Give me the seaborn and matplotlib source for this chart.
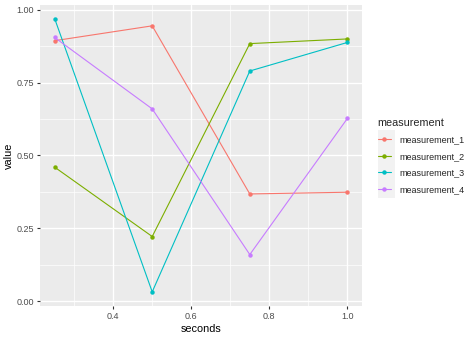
import matplotlib
matplotlib.use("Agg")
import matplotlib.pyplot as plt
import seaborn as sns
import pandas as pd
from matplotlib.ticker import FixedLocator
from matplotlib.patches import Rectangle

seconds = [0.25, 0.5, 0.75, 1.0]
measurement_1 = [0.894, 0.945, 0.368, 0.374]
measurement_2 = [0.460, 0.222, 0.884, 0.900]
measurement_3 = [0.970, 0.032, 0.790, 0.888]
measurement_4 = [0.905, 0.660, 0.160, 0.627]
series_names = ["measurement_1", "measurement_2", "measurement_3", "measurement_4"]
colors = ["#F8766D", "#7CAE00", "#00BFC4", "#C77CFF"]

rows = []
for name, vals in zip(series_names, [measurement_1, measurement_2, measurement_3, measurement_4]):
    for s, v in zip(seconds, vals):
        rows.append({"seconds": s, "value": v, "measurement": name})
df = pd.DataFrame(rows)

sns.set_theme(style="white")
plt.rcParams['font.family'] = ['Liberation Sans', 'DejaVu Sans']

W, H = 474, 338
fig = plt.figure(figsize=(W/100, H/100), dpi=100)
ax = fig.add_axes([40/W, 1 - 306/H, (362-40)/W, (306-5)/H])
ax.set_facecolor("#EBEBEB")
ax.set_zorder(1)

sns.lineplot(data=df, x="seconds", y="value", hue="measurement",
             palette=colors, marker="o", markersize=3.2, markeredgewidth=0,
             linewidth=0.8, ax=ax, legend=True)

ax.set_xlim(0.2125, 1.0375)
ax.set_ylim(-0.0165, 1.0165)
ax.xaxis.set_major_locator(FixedLocator([0.4, 0.6, 0.8, 1.0]))
ax.xaxis.set_minor_locator(FixedLocator([0.3, 0.5, 0.7, 0.9]))
ax.yaxis.set_major_locator(FixedLocator([0.0, 0.25, 0.5, 0.75, 1.0]))
ax.yaxis.set_minor_locator(FixedLocator([0.125, 0.375, 0.625, 0.875]))
ax.set_xticklabels(["0.4", "0.6", "0.8", "1.0"])
ax.set_yticklabels(["0.00", "0.25", "0.50", "0.75", "1.00"])
ax.grid(which="major", color="white", linewidth=1.0)
ax.grid(which="minor", color="white", linewidth=0.5)
ax.set_axisbelow(True)
for sp in ax.spines.values():
    sp.set_visible(False)
ax.tick_params(which="major", length=2.5, width=0.8, color="#333333",
               labelsize=6.5, labelcolor="#4D4D4D", pad=2, bottom=True, left=True)
ax.tick_params(which="minor", length=0)
ax.set_xlabel("seconds", fontsize=7.8, color="black", labelpad=2)
ax.set_ylabel("value", fontsize=7.8, color="black", labelpad=2)

# legend key background (ggplot style)
bg = Rectangle((378/W, 1 - 198/H), 17/W, 68/H,
               transform=fig.transFigure, facecolor="#F2F2F2",
               edgecolor="none", zorder=-1)
fig.patches.append(bg)

leg = ax.legend(title="measurement", loc="upper left",
                bbox_to_anchor=(374/W, 1 - 114/H), bbox_transform=fig.transFigure,
                frameon=False, fontsize=6.5, title_fontsize=7.8, handlelength=1.5,
                handletextpad=0.9, labelspacing=0.85, borderaxespad=0.0)
leg._legend_box.align = "left"

fig.savefig("out.png", dpi=100)
